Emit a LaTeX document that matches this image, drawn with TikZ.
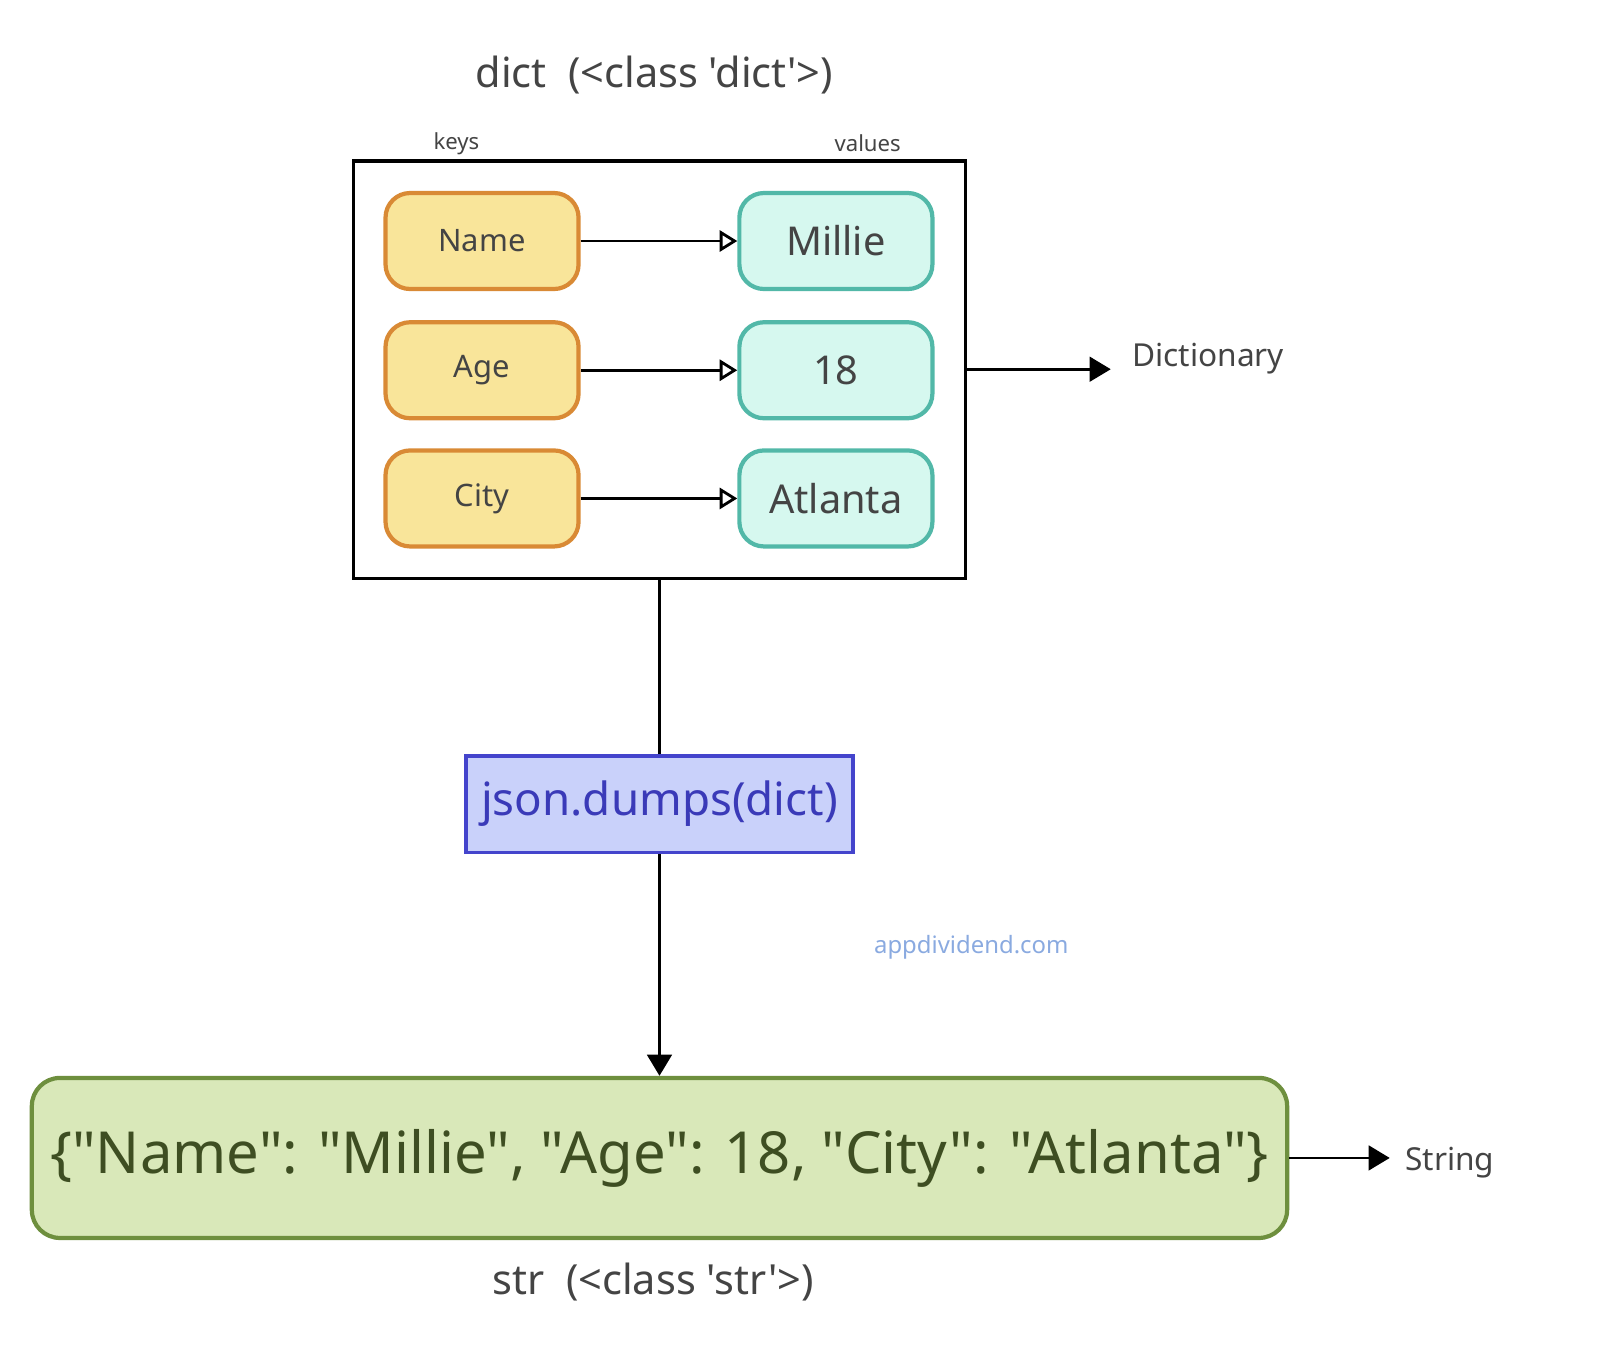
\documentclass[tikz,border=0pt]{standalone}
\usepackage{fontspec}
\setmainfont{Noto Sans}[Ligatures=TeXReset]
\usetikzlibrary{arrows.meta,positioning}
\definecolor{keyfill}{HTML}{F9E59A}
\definecolor{keyline}{HTML}{D98A35}
\definecolor{valfill}{HTML}{D6F8EF}
\definecolor{valline}{HTML}{52B8A8}
\definecolor{fnfill}{HTML}{C9D1FA}
\definecolor{fnline}{HTML}{4444CC}
\definecolor{fntext}{HTML}{3A3AB8}
\definecolor{strfill}{HTML}{D9E8B9}
\definecolor{strline}{HTML}{6E8F3E}
\definecolor{strtext}{HTML}{3E4E22}
\definecolor{txt}{HTML}{444444}
\definecolor{mark}{HTML}{8AAAE0}
\tikzset{
  key/.style={draw=keyline,fill=keyfill,line width=1.2pt,rounded corners=7pt,
    minimum width=1.93cm,minimum height=0.96cm,text=txt,font=\fontsize{8.8}{10}\selectfont},
  val/.style={draw=valline,fill=valfill,line width=1.2pt,rounded corners=7pt,
    minimum width=1.93cm,minimum height=0.96cm,text=txt,font=\fontsize{11.3}{13}\selectfont},
  link/.style={-{Triangle[open,length=5pt,width=6pt]},line width=0.8pt},
  flow/.style={-{Triangle[length=6pt,width=7pt]},line width=0.8pt},
}
\begin{document}
\begin{tikzpicture}[x=0.01026cm,y=-0.01026cm]
  \useasboundingbox (0,0) rectangle (1560,1326);
  \node[text=txt,font=\fontsize{11.8}{14}\selectfont] (title) at (638,73) {dict\ \ (<class 'dict'>)};
  \node[text=txt,font=\fontsize{6.3}{8}\selectfont] (keys) at (445,140) {keys};
  \node[text=txt,font=\fontsize{6.3}{8}\selectfont] (values) at (846,140) {values};
  \node[draw,line width=1pt,minimum width=6.115cm,minimum height=4.176cm] (dict) at (643,360.5) {};
  % keys and values
  \node[key] (name) at (470,235) {Name};
  \node[key] (age) at (470,361) {Age};
  \node[key] (city) at (470,486) {City};
  \node[val] (millie) at (815,235) {Millie};
  \node[val] (eighteen) at (815,361) {18};
  \node[val] (atlanta) at (815,486) {Atlanta};
  \draw[link] (name) -- (millie);
  \draw[link] (age) -- (eighteen);
  \draw[link] (city) -- (atlanta);
  \coordinate (dictend) at (1083,360);
  \draw[flow] (dict.east |- dictend) -- (dictend);
  \node[anchor=west,text=txt,font=\fontsize{9}{11}\selectfont] (dictlabel) at (1092,350) {Dictionary};
  % conversion
  \node[draw=fnline,fill=fnfill,line width=1pt,minimum width=3.87cm,minimum height=0.965cm,
    text=fntext,font=\fontsize{13}{15}\selectfont] (dumps) at (643,784) {json.dumps(dict)};
  \node[draw=strline,fill=strfill,line width=1.2pt,rounded corners=8pt,minimum width=12.55cm,
    minimum height=1.6cm,text=strtext,font=\fontsize{16.5}{19}\selectfont] (result) at (643,1129)
    {\{"Name": "Millie", "Age": 18, "City": "Atlanta"\}};
  \draw[line width=0.8pt] (dict) -- (dumps);
  \draw[flow] (dumps) -- (result);
  \node[text=mark,font=\fontsize{6.8}{8}\selectfont] (site) at (947,924) {appdividend.com};
  \coordinate (strend) at (1355,1129);
  \draw[flow] (result.east |- strend) -- (strend);
  \node[anchor=west,text=txt,font=\fontsize{9}{11}\selectfont] (strlabel) at (1358,1134) {String};
  \node[text=txt,font=\fontsize{11.8}{14}\selectfont] (strtitle) at (637,1250) {str\ \ (<class 'str'>)};
\end{tikzpicture}
\end{document}
